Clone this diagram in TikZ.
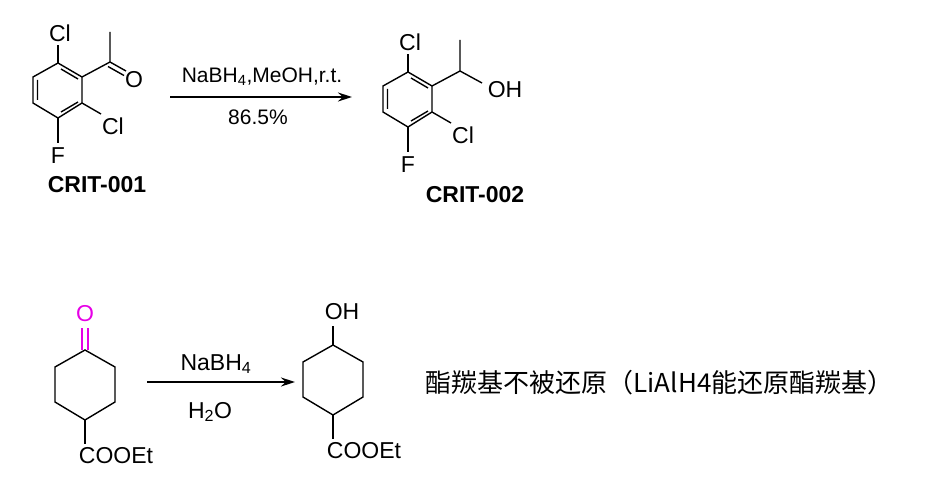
\documentclass[tikz,border=0pt]{standalone}
\usepackage{fontspec}
\setmainfont{Liberation Sans}
\newfontfamily\cjk{Noto Sans CJK SC}
\usetikzlibrary{arrows.meta}
\definecolor{mag}{RGB}{230,0,230}
\begin{document}
\begin{tikzpicture}[x=1pt,y=-1pt,line width=1.4pt,
  lbl/.style={font=\fontsize{23}{25}\selectfont,inner sep=1pt},
  cmp/.style={font=\fontsize{23}{25}\selectfont\bfseries,inner sep=1pt},
  arr/.style={-{Stealth[length=14pt,width=9pt]},line width=1.4pt}]
\useasboundingbox (0,0) rectangle (944,492);
\foreach \dx/\dy/\nm in {0/0/a,350/9/b}{
\begin{scope}[shift={(\dx,\dy)}]
\coordinate (\nm1) at (58,63); \coordinate (\nm2) at (82,77);
\coordinate (\nm3) at (82,103); \coordinate (\nm4) at (58,118);
\coordinate (\nm5) at (33,103); \coordinate (\nm6) at (33,77);
\draw (\nm1)--(\nm2)--(\nm3)--(\nm4)--(\nm5)--(\nm6)--cycle;
\draw (37.5,80)--(37.5,100) (61,69)--(78,79) (61,112)--(78,102);
\node[lbl] (\nm cl1) at (60,33) {Cl};
\draw (\nm1)--(58,45);
\draw (\nm3)--(101,114);
\node[lbl] (\nm cl2) at (113,126) {Cl};
\draw (\nm4)--(58,143);
\node[lbl] (\nm f) at (58,156) {F};
\end{scope}}
\draw (a2)--(110,62)--(110,32);
\draw (110,62)--(126,71) (108,66.5)--(124,75.5);
\node[lbl] (o1) at (134,80) {O};
\node[cmp] (c1) at (97,185) {CRIT-001};
\draw (b2)--(460,71)--(460,40);
\draw (460,71)--(482,83);
\node[lbl] (oh1) at (505,90) {OH};
\node[cmp] (c2) at (475,195) {CRIT-002};
\coordinate (ar1s) at (170,97); \coordinate (ar1e) at (352,97);
\draw[arr] (ar1s)--(ar1e);
\node[lbl,font=\fontsize{21}{23}\selectfont] (r1) at (262,77) {NaBH\textsubscript{4},MeOH,r.t.};
\node[lbl,font=\fontsize{21}{23}\selectfont] (r2) at (258,117) {86.5\%};
\foreach \dx/\dy/\nm in {0/0/k,248/-5/p}{
\begin{scope}[shift={(\dx,\dy)}]
\coordinate (\nm1) at (85,350); \coordinate (\nm2) at (115,367);
\coordinate (\nm3) at (115,402); \coordinate (\nm4) at (85,420);
\coordinate (\nm5) at (55,402); \coordinate (\nm6) at (55,367);
\draw (\nm1)--(\nm2)--(\nm3)--(\nm4)--(\nm5)--(\nm6)--cycle;
\draw (\nm4)--(85,444);
\end{scope}}
\node[lbl] (e1) at (116,456) {COOEt};
\node[lbl] (e2) at (364,451) {COOEt};
\draw[mag] (82,350)--(82,328) (88,350)--(88,328);
\node[lbl,mag] (o2) at (85,314) {O};
\draw (p1)--(333,326);
\node[lbl] (oh2) at (342,312) {OH};
\coordinate (ar2s) at (147,382); \coordinate (ar2e) at (295,382);
\draw[arr] (ar2s)--(ar2e);
\node[lbl] (r3) at (216,364) {NaBH\textsubscript{4}};
\node[lbl] (r4) at (210,412) {H\textsubscript{2}O};
\node[anchor=west,inner sep=0pt,font=\fontsize{26}{28}\selectfont] (t) at (425,383) {\cjk 酯羰基不被还原（LiAlH4能还原酯羰基）};
\end{tikzpicture}
\end{document}
